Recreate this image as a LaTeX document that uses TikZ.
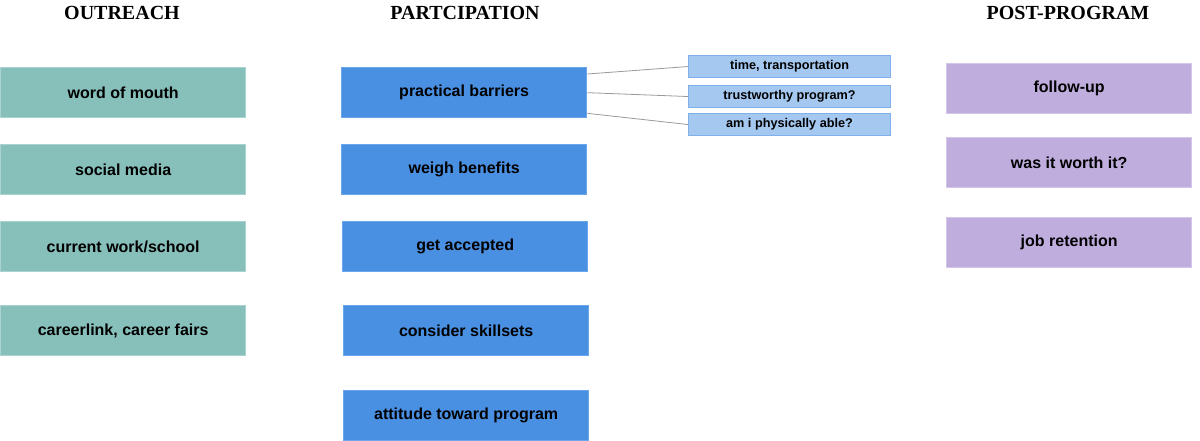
\documentclass[tikz,border=0pt]{standalone}
\usepackage{fontspec}
\setmainfont{Liberation Sans}
\newfontfamily\hdr{Liberation Serif}
\definecolor{teal1}{HTML}{87BFBA}
\definecolor{tealb}{HTML}{A9D3CF}
\definecolor{blue1}{HTML}{4A90E2}
\definecolor{blueb}{HTML}{6AA6EA}
\definecolor{lblue}{HTML}{A4C8F0}
\definecolor{lblueb}{HTML}{7FB0EA}
\definecolor{purp}{HTML}{BFADDD}
\definecolor{purpb}{HTML}{D3C6EA}
\begin{document}
\begin{tikzpicture}[x=0.75pt,y=-0.75pt,
 box/.style={line width=1pt,minimum width=245*0.75pt,minimum height=50*0.75pt,inner sep=0pt,font=\bfseries\fontsize{12}{14}\selectfont,anchor=north west},
 tb/.style={box,fill=teal1, draw=tealb},
 bb/.style={box,fill=blue1, draw=blueb},
 pb/.style={box,fill=purp, draw=purpb},
 sb/.style={draw=lblueb,fill=lblue,line width=0.8pt,minimum width=202*0.75pt,minimum height=22*0.75pt,inner sep=0pt,font=\bfseries\fontsize{9.5}{11}\selectfont,anchor=north west},
 hd/.style={font=\hdr\bfseries\fontsize{15}{17}\selectfont},
 ln/.style={draw=gray!80,line width=0.6pt}]
\useasboundingbox (0,0) rectangle (1200,441);
\node[hd] (h1) at (122,13) {OUTREACH};
\node[hd] (h2) at (465,13) {PARTCIPATION};
\node[hd] (h3) at (1068,13) {POST-PROGRAM};
\node[tb] (o1) at (0,67) {word of mouth};
\node[tb] (o2) at (0,144) {social media};
\node[tb] (o3) at (0,221) {current work/school};
\node[tb] (o4) at (0,305) {careerlink, career fairs};
\node[bb] (p1) at (341,67) {practical barriers};
\node[bb] (p2) at (341,144) {weigh benefits};
\node[bb] (p3) at (342,221) {get accepted};
\node[bb] (p4) at (343,305) {consider skillsets};
\node[bb] (p5) at (343,390) {attitude toward program};
\node[sb] (s1) at (688,55) {time, transportation};
\node[sb] (s2) at (688,85) {trustworthy program?};
\node[sb] (s3) at (688,113) {am i physically able?};
\node[pb] (q1) at (946,63) {follow-up};
\node[pb] (q2) at (946,137) {was it worth it?};
\node[pb] (q3) at (946,217) {job retention};
\draw[ln] ([yshift=-7*0.75pt]p1.north east) -- (s1.west);
\draw[ln] (p1.east) -- (s2.west);
\draw[ln] ([yshift=5*0.75pt]p1.south east) -- (s3.west);
\end{tikzpicture}
\end{document}
